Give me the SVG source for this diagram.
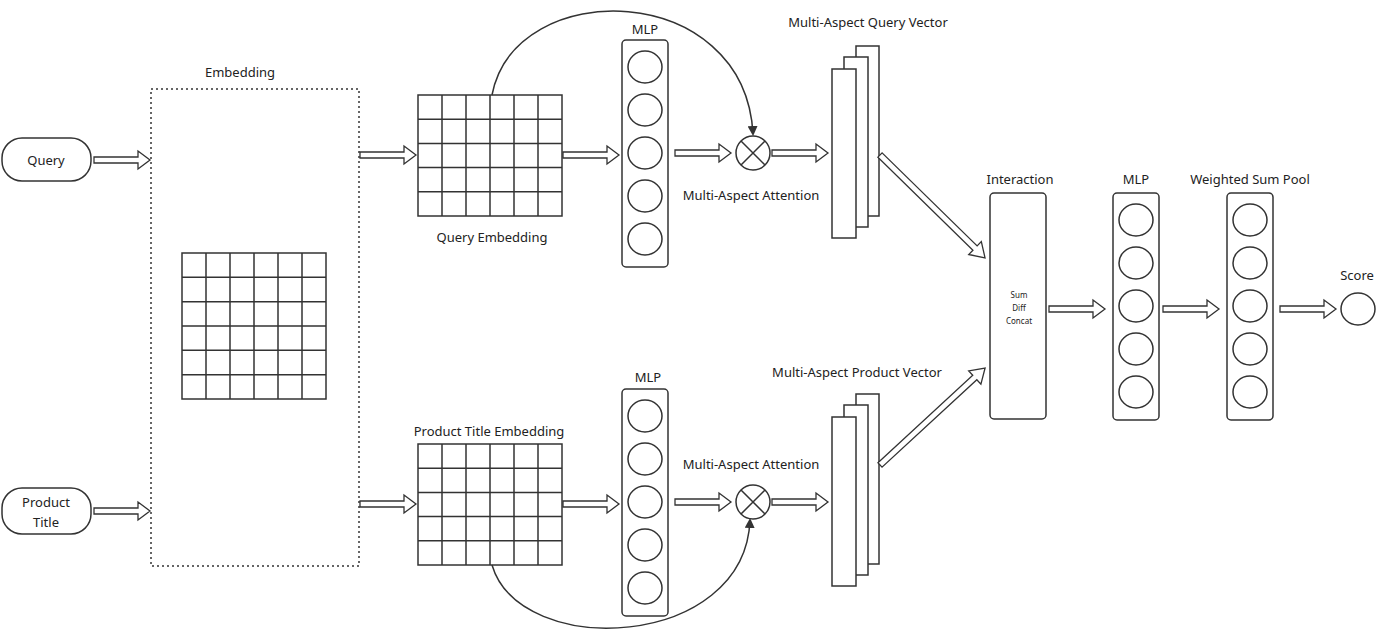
<svg xmlns="http://www.w3.org/2000/svg" xmlns:xlink="http://www.w3.org/1999/xlink" width="1377" height="637" viewBox="0 0 1377 637">
<style>
text{font-family:"Noto Sans","Open Sans",sans-serif;font-size:13px;fill:#222;text-anchor:middle}
.s{fill:#fff;stroke:#333;stroke-width:1.5}
.g{fill:none;stroke:#333;stroke-width:1.5}
.ha{fill:#fff;stroke:#333;stroke-width:1.3}
</style>
<defs>
<polygon id="ar" class="ha" points="0,-3 44,-3 44,-9 56,0 44,9 44,3 0,3"/>
<marker id="tri" markerWidth="10" markerHeight="10" refX="8" refY="5" orient="auto" markerUnits="userSpaceOnUse"><path d="M0,0 L10,5 L0,10z" fill="#333"/></marker>
<g id="mlp"><rect class="s" x="-23" y="0" width="46" height="227" rx="4"/>
<ellipse class="s" cx="0" cy="27" rx="17" ry="16"/><ellipse class="s" cx="0" cy="70" rx="17" ry="16"/><ellipse class="s" cx="0" cy="113" rx="17" ry="16"/><ellipse class="s" cx="0" cy="156" rx="17" ry="16"/><ellipse class="s" cx="0" cy="199" rx="17" ry="16"/></g>
<g id="grid5"><rect class="s" x="0" y="0" width="144" height="121"/><path class="g" d="M24,0V121M48,0V121M72,0V121M96,0V121M120,0V121M0,24.2H144M0,48.4H144M0,72.6H144M0,96.8H144"/></g>
<g id="otimes"><circle class="s" r="17"/><path class="g" d="M-12,-12L12,12M12,-12L-12,12"/></g>
<g id="stack"><rect class="s" x="24" y="0" width="23" height="170"/><rect class="s" x="12" y="11" width="24" height="170"/><rect class="s" x="0" y="23" width="24" height="169"/></g>
</defs>
<g id="query"><rect class="s" x="2" y="138" width="89" height="43" rx="20"/><text x="46" y="165">Query</text></g>
<g id="product"><rect class="s" x="2" y="488" width="89" height="46" rx="20"/><text x="46" y="507">Product</text><text x="46" y="527">Title</text></g>
<g id="embedding"><rect x="151" y="89" width="208" height="477" fill="none" stroke="#333" stroke-width="1.5" stroke-dasharray="2,3"/><text x="240" y="77">Embedding</text>
<rect class="s" x="182" y="253" width="144" height="146"/><path class="g" d="M206,253V399M230,253V399M254,253V399M278,253V399M302,253V399M182,277.3H326M182,301.7H326M182,326H326M182,350.3H326M182,374.7H326"/></g>
<g id="qemb"><use href="#grid5" x="418" y="95"/><text x="492" y="242">Query Embedding</text></g>
<g id="pemb"><use href="#grid5" x="418" y="444"/><text x="489" y="436">Product Title Embedding</text></g>
<g id="mlp-q"><use href="#mlp" x="645" y="40"/><text x="645" y="34">MLP</text></g>
<g id="mlp-p"><use href="#mlp" x="645" y="389"/><text x="648" y="382">MLP</text></g>
<g id="att-q"><use href="#otimes" x="753" y="153"/><text x="751" y="200">Multi-Aspect Attention</text></g>
<g id="att-p"><use href="#otimes" x="753" y="502"/><text x="751" y="469">Multi-Aspect Attention</text></g>
<g id="vec-q"><use href="#stack" x="832" y="46"/><text x="868" y="27">Multi-Aspect Query Vector</text></g>
<g id="vec-p"><use href="#stack" x="832" y="394"/><text x="857" y="377">Multi-Aspect Product Vector</text></g>
<g id="interaction"><rect class="s" x="990" y="193" width="56" height="226" rx="4"/><text x="1020" y="184">Interaction</text>
<text x="1019" y="298" style="font-size:8px">Sum</text><text x="1019" y="311" style="font-size:8px">Diff</text><text x="1019" y="324" style="font-size:8px">Concat</text></g>
<g id="mlp2"><use href="#mlp" x="1136" y="193"/><text x="1136" y="184">MLP</text></g>
<g id="wsp"><use href="#mlp" x="1250" y="193"/><text x="1250" y="184">Weighted Sum Pool</text></g>
<g id="score"><ellipse class="s" cx="1358" cy="309" rx="17" ry="16"/><text x="1357" y="280">Score</text></g>
<g id="connectors">
<use href="#ar" x="94" y="160"/><use href="#ar" x="94" y="511"/>
<use href="#ar" x="360" y="155"/><use href="#ar" x="360" y="504"/>
<use href="#ar" x="563" y="155"/><use href="#ar" x="563" y="504"/>
<use href="#ar" x="675" y="153"/><use href="#ar" x="675" y="502"/>
<use href="#ar" x="772" y="153"/><use href="#ar" x="772" y="502"/>
<use href="#ar" x="1049" y="309"/><use href="#ar" x="1163" y="309"/><use href="#ar" x="1280" y="309"/>
<polygon class="ha" transform="translate(880,155) rotate(44.4)" points="0,-3 133,-3 133,-9 147,0 133,9 133,3 0,3"/>
<polygon class="ha" transform="translate(880,465) rotate(-42.7)" points="0,-3 129,-3 129,-9 143,0 129,9 129,3 0,3"/>
<path class="g" d="M492,95 C515,-25 745,-20 753,134" marker-end="url(#tri)"/>
<path class="g" d="M492,565 C520,660 745,650 750,520" marker-end="url(#tri)"/>
</g>
</svg>
